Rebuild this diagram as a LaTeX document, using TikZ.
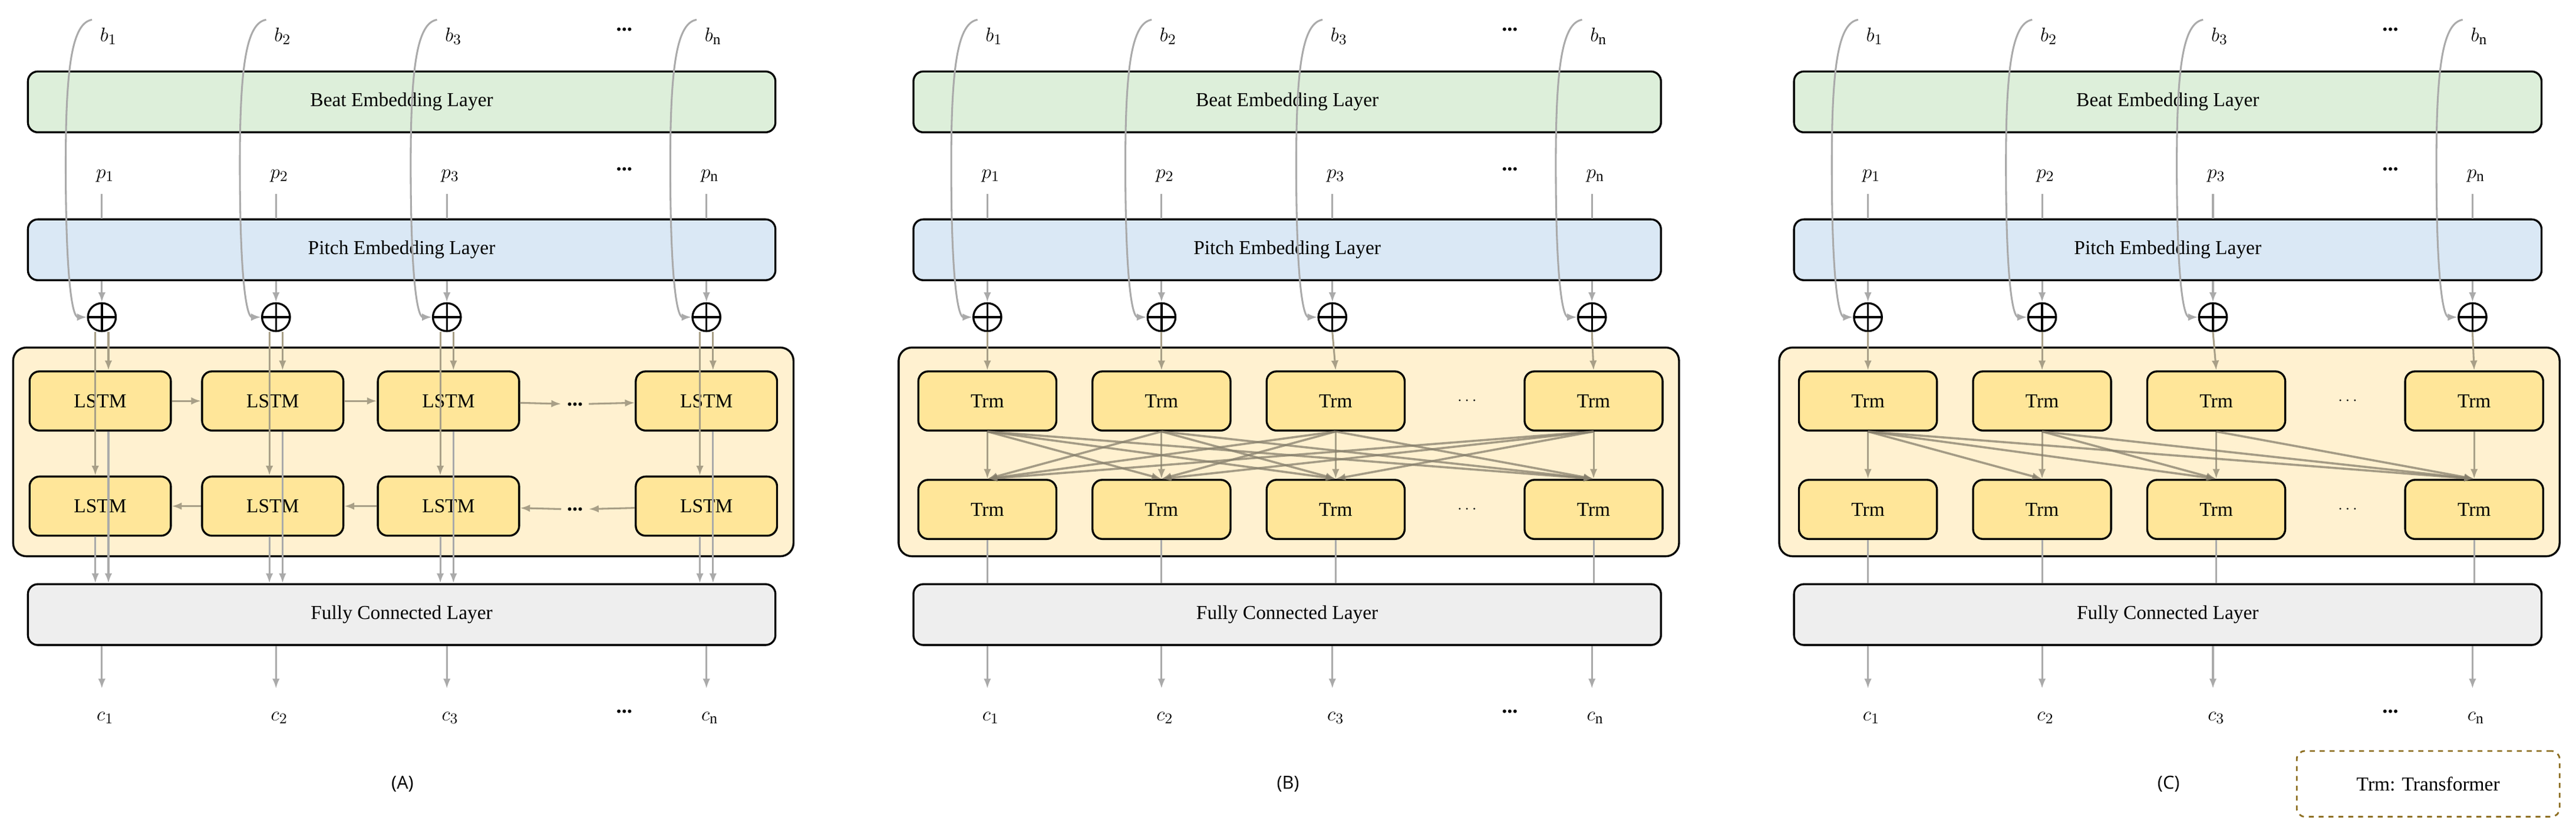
\documentclass[tikz,border=0pt]{standalone}
\usepackage{fontspec}
\setmainfont{Liberation Serif}
\newfontfamily\lblfont{Open Sans}
\usetikzlibrary{arrows.meta}
\definecolor{beatc}{HTML}{DDEFDA}
\definecolor{pitchc}{HTML}{DAE8F5}
\definecolor{contc}{HTML}{FFF1D0}
\definecolor{cellc}{HTML}{FFE699}
\definecolor{fcc}{HTML}{EEEEEE}
\definecolor{garr}{HTML}{AAAAAA}
\definecolor{tarr}{HTML}{A89F87}
\definecolor{legc}{HTML}{8C6D1F}
\begin{document}
\begin{tikzpicture}[x=1pt,y=-1pt,
 layer/.style={draw=black,line width=1.2pt,rounded corners=6pt,minimum width=455pt,minimum height=37pt,font=\fontsize{12}{14}\selectfont},
 cont/.style={draw=black,line width=1.2pt,rounded corners=8pt,fill=contc,minimum width=475pt,minimum height=127pt},
 cell/.style={draw=black,line width=1.2pt,rounded corners=6pt,fill=cellc,minimum width=86pt,minimum height=36pt,font=\fontsize{12}{14}\selectfont},
 lab/.style={font=\fontsize{13}{15}\selectfont},
 dots/.style={font=\fontsize{13}{15}\selectfont\bfseries},
 oplus/.style={circle,draw=black,line width=1.2pt,minimum size=17pt,inner sep=0pt,path picture={\draw[line width=1.2pt] (path picture bounding box.north)--(path picture bounding box.south) (path picture bounding box.west)--(path picture bounding box.east);}},
 ga/.style={draw=garr,line width=1.1pt,-{Latex[length=6pt,width=4.5pt]}},
 gl/.style={draw=garr,line width=1.1pt},
 ta/.style={draw=tarr,line width=1.1pt,-{Latex[length=6pt,width=4.5pt]}},
 xa/.style={draw=tarr!80!black,opacity=0.75,line width=1.3pt,-{Latex[length=6pt,width=4.5pt]}},
]
\useasboundingbox (0,0) rectangle (1568,505);
\foreach \P/\ox in {A/0,B/539,C/1075}{
 \begin{scope}[xshift=\ox pt]
 \node[cont] (\P-cont) at (245.5,275) {};
 \node[layer,fill=beatc] (\P-beat) at (244.5,62) {Beat Embedding Layer};
 \node[layer,fill=pitchc] (\P-pitch) at (244.5,152) {Pitch Embedding Layer};
 \node[layer,fill=fcc] (\P-fc) at (244.5,374) {Fully Connected Layer};
 \node[dots] (\P-bd) at (380,18) {...};
 \node[dots] (\P-pd) at (380,103) {...};
 \node[dots] (\P-cd) at (380,433) {...};
 \node[font=\lblfont\fontsize{11}{13}\selectfont] (\P-lab) at (245,477) {(\P)};
 \foreach \i/\x/\s in {1/62/1,2/168/2,3/272/3,4/430/{\mathrm{n}}}{
  \node[lab] (\P-b\i) at (\x+4,22) {$b_{\s}$};
  \node[lab] (\P-p\i) at (\x+2,107) {$p_{\s}$};
  \node[lab] (\P-c\i) at (\x+2,437) {$c_{\s}$};
  \node[oplus] (\P-o\i) at (\x,193) {};
  \coordinate (\P-bs\i) at (\x-6,12);
  \coordinate (\P-pt\i) at (\x,118);
  \coordinate (\P-ce\i) at (\x,419);
  \draw[ga] (\P-bs\i) .. controls (\x-18,14) and (\x-22,40) .. (\x-22,100) .. controls (\x-22,170) and (\x-18,193) .. (\P-o\i.west);
  \draw[gl] (\P-pt\i) -- (\x,133);
  \draw[ga] (\x,171) -- (\P-o\i.north);
  \draw[ga] (\x,393) -- (\P-ce\i);
 }
 \end{scope}
}
% Panel A: LSTM
\foreach \i/\x in {1/61,2/166,3/273,4/430}{
 \node[cell] (A-u\i) at (\x,244) {LSTM};
 \node[cell] (A-l\i) at (\x,308) {LSTM};
}
\node[dots] (A-ud) at (350,246) {...};
\node[dots] (A-ld) at (350,310) {...};
\foreach \a/\b in {1/2,2/3}{\draw[ta] (A-u\a) -- (A-u\b); \draw[ta] (A-l\b) -- (A-l\a);}
\draw[ta] (A-u3) -- (A-ud); \draw[ta] (A-ud) -- (A-u4);
\draw[ta] (A-l4) -- (A-ld); \draw[ta] (A-ld) -- (A-l3);
\foreach \i/\x in {1/62,2/168,3/272,4/430}{
 \draw[ta] ([xshift=4pt]A-o\i.south) -- ([xshift=4pt]A-o\i.south |- A-u\i.north);
 \draw[ta] ([xshift=-4pt]A-o\i.south) -- ([xshift=-4pt]A-o\i.south |- A-l\i.north);
 \draw[ga] ([xshift=4pt]A-o\i.south |- A-u\i.south) -- ([xshift=4pt]A-o\i.south |- A-fc.north);
 \draw[ga] ([xshift=-4pt]A-o\i.south |- A-l\i.south) -- ([xshift=-4pt]A-o\i.south |- A-fc.north);
}
% Panels B, C: Transformer
\foreach \P/\ox in {B/539,C/1075}{
 \begin{scope}[xshift=\ox pt]
 \foreach \i/\x in {1/62,2/168,3/274,4/431}{
  \node[cell,minimum width=84pt] (\P-u\i) at (\x,244) {Trm};
  \node[cell,minimum width=84pt] (\P-l\i) at (\x,310) {Trm};
 }
 \node (\P-ud) at (354,244) {$\cdots$};
 \node (\P-ld) at (354,310) {$\cdots$};
 \end{scope}
 \foreach \i in {1,2,3,4}{
  \draw[ta] (\P-o\i.south) -- (\P-u\i.north);
  \draw[ta] (\P-u\i.south) -- (\P-l\i.north);
  \draw[gl] (\P-l\i.south) -- (\P-fc.north -| \P-l\i.south);
 }
}
\foreach \i in {1,2,3,4}{\foreach \j in {1,2,3,4}{
 \ifnum\i=\j\else \draw[xa] (B-u\i.south) -- (B-l\j.north);\fi
 \ifnum\i<\j \draw[xa] (C-u\i.south) -- (C-l\j.north);\fi
}}
\node[draw=legc,dashed,line width=1pt,rounded corners=5pt,minimum width=160pt,minimum height=40pt,font=\fontsize{12}{14}\selectfont] (leg) at (1478,477) {Trm: Transformer};
\end{tikzpicture}
\end{document}
